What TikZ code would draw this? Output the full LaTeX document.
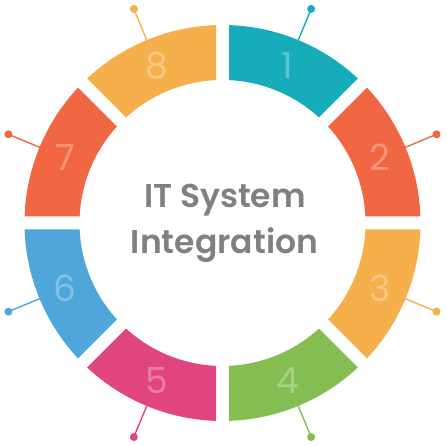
\documentclass[tikz,border=0pt]{standalone}
\usepackage{fontspec}
\setmainfont{Poppins}[BoldFont={Poppins SemiBold}]
\definecolor{cA}{HTML}{17ACB9}
\definecolor{cB}{HTML}{F16643}
\definecolor{cC}{HTML}{F5AF4B}
\definecolor{cD}{HTML}{84BE53}
\definecolor{cE}{HTML}{E0457F}
\definecolor{cF}{HTML}{4FA6DB}
\definecolor{titlegray}{HTML}{808080}
\tikzset{
  numstyle/.style={text=white, text opacity=0.3, font=\fontsize{36}{36}\selectfont, inner sep=0pt},
  titlestyle/.style={text=titlegray, font=\bfseries\fontsize{33}{40}\selectfont, inner sep=0pt, anchor=base},
  pinline/.style={line width=1.4pt},
}
\begin{document}
\begin{tikzpicture}[x=1pt,y=1pt]
\useasboundingbox (0,0) rectangle (446,446);
\def\Ro{198}
\def\Ri{143}
\def\dRo{1.881}
\def\dRi{2.605}
\begin{scope}[shift={(222.5,223)}]
\foreach \i/\col in {1/cA,2/cB,3/cC,4/cD,5/cE,6/cF,7/cB,8/cC}{
  \pgfmathsetmacro\aone{90-45*(\i-1)}
  \pgfmathsetmacro\azero{\aone-45}
  \pgfmathsetmacro\amid{\aone-22.5}
  \pgfmathsetmacro\sa{\aone-\dRo}
  \pgfmathsetmacro\ea{\azero+\dRo}
  \pgfmathsetmacro\sb{\azero+\dRi}
  \pgfmathsetmacro\eb{\aone-\dRi}
  \fill[\col] (\sa:\Ro) arc[start angle=\sa, end angle=\ea, radius=\Ro] -- (\sb:\Ri) arc[start angle=\sb, end angle=\eb, radius=\Ri] -- cycle;
  \node[numstyle] (n\i) at (\amid:170.5) {\i};
  \coordinate (p\i) at (\amid:\Ro-1);
  \coordinate (q\i) at (\amid:231.7);
  \draw[\col, pinline] (p\i) -- (q\i);
  \fill[\col] (q\i) circle[radius=4];
}
\end{scope}
\node[titlestyle] (t1) at (225,238) {IT System};
\node[titlestyle] (t2) at (224.5,192) {Integration};
\end{tikzpicture}
\end{document}
